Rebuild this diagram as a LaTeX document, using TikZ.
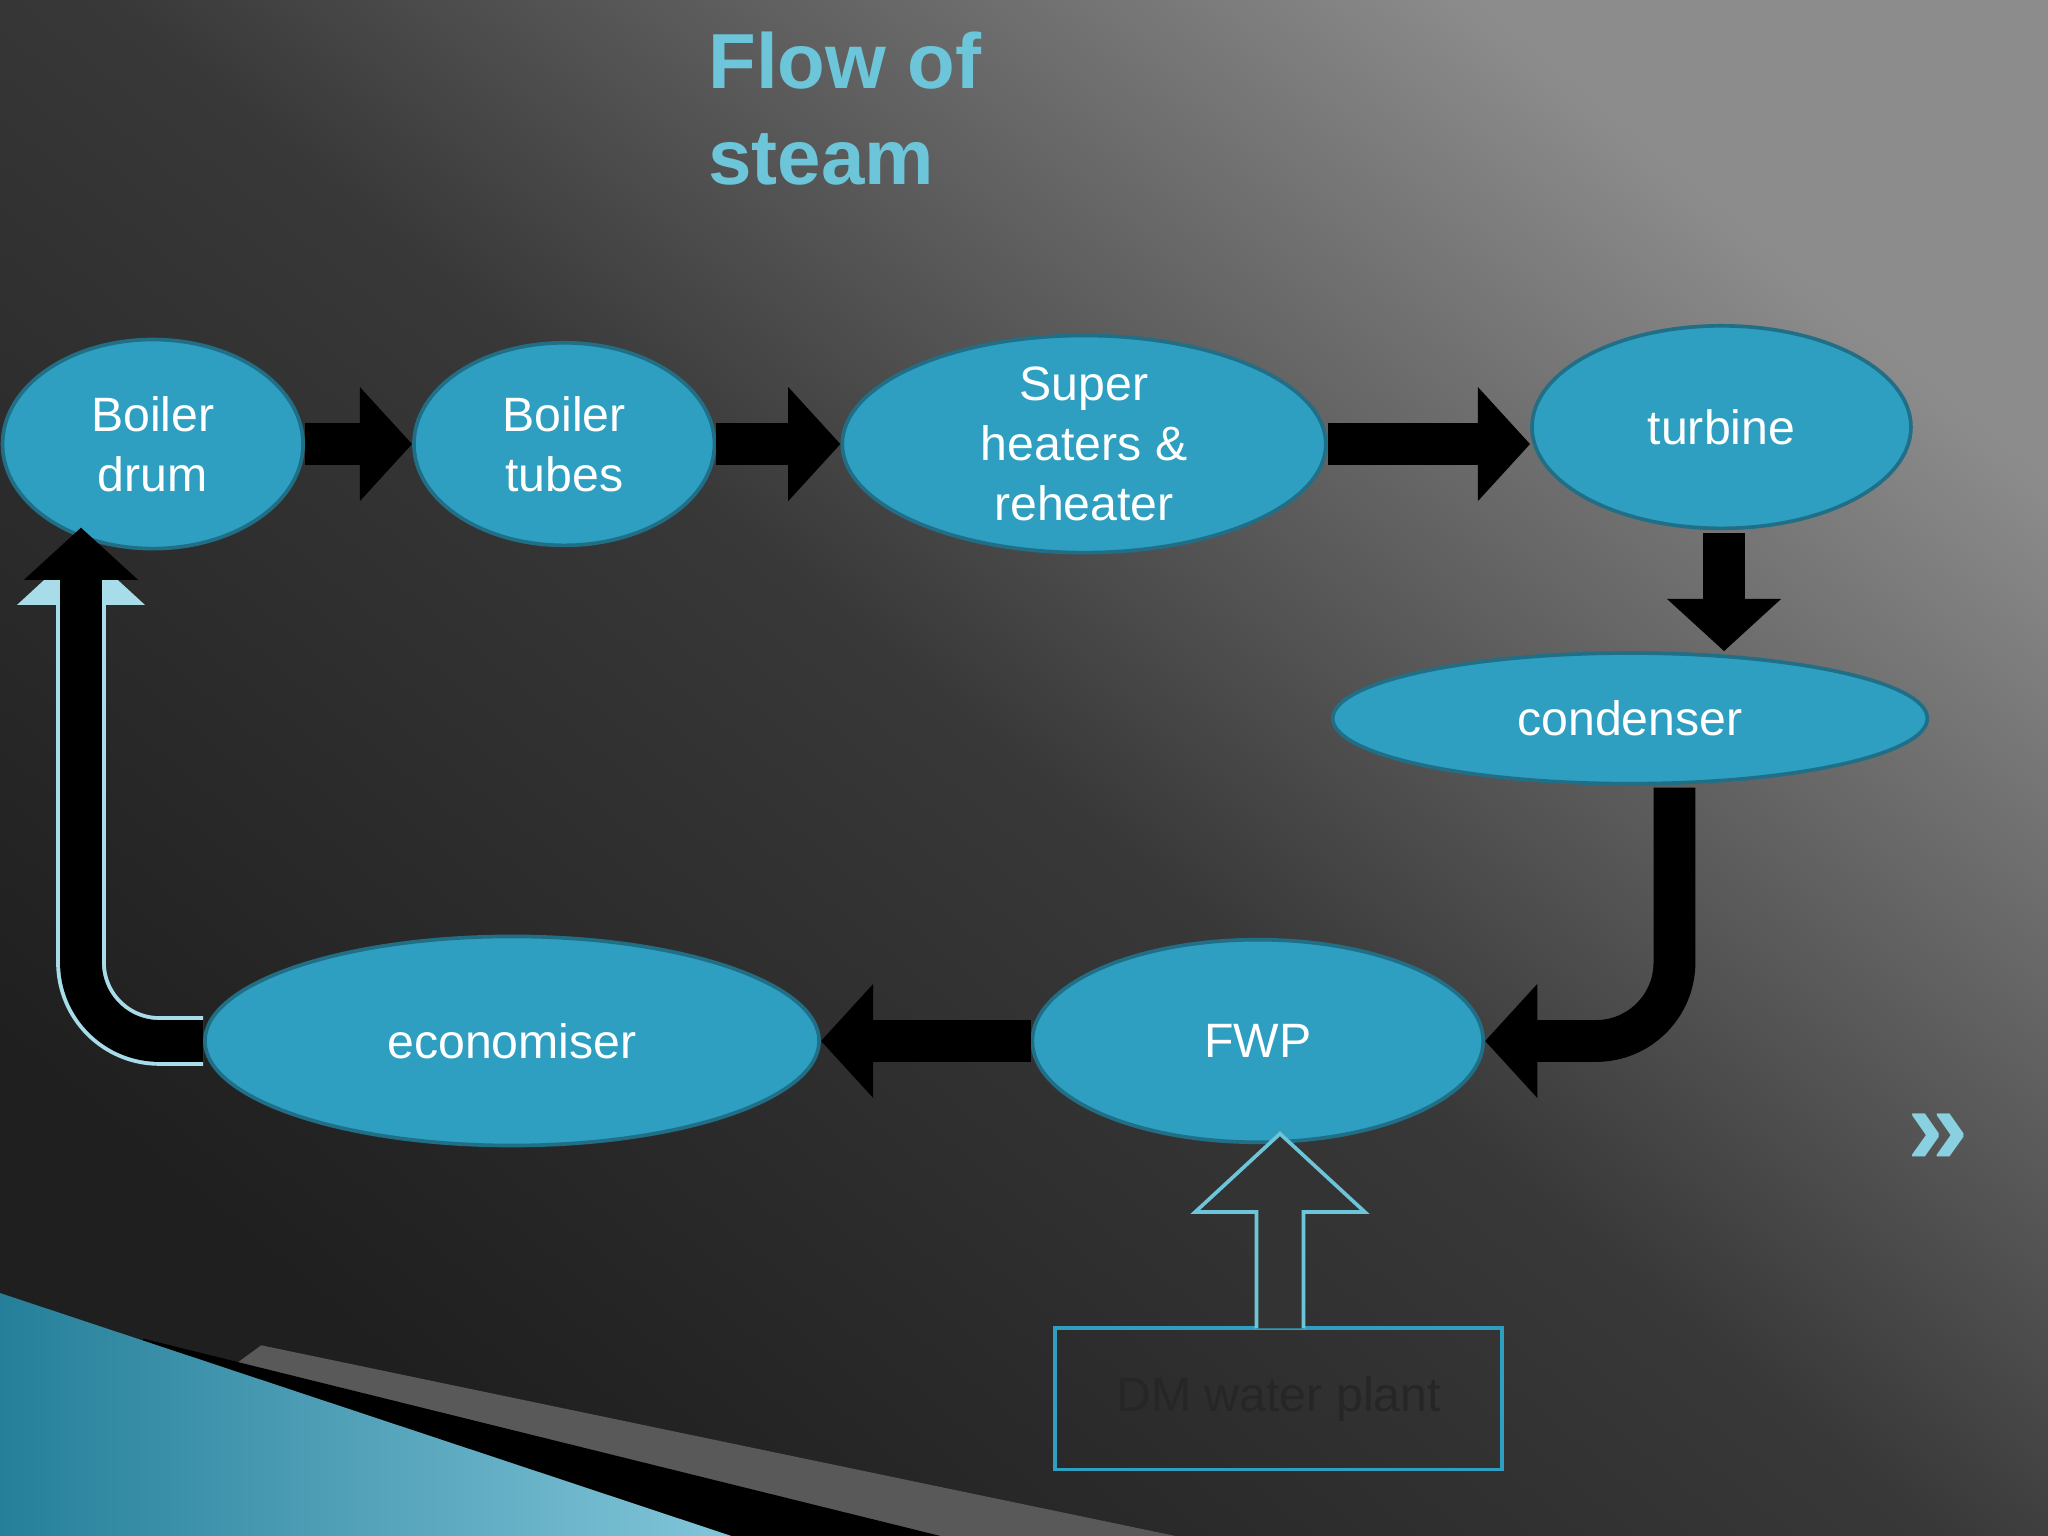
\documentclass[tikz,border=0pt]{standalone}
\usepackage{fontspec}
\setmainfont{Liberation Sans}
\usetikzlibrary{arrows.meta,shapes.geometric,positioning}
\definecolor{blob}{HTML}{2E9FC0}
\definecolor{title}{HTML}{6CC5D8}
\tikzset{
    blob/.style={
        ellipse, draw=blob!70!black, fill=blob, thick,
        text=white, align=center, font=\fontsize{10.5}{13}\selectfont,
        inner sep=0pt,
    },
    flow/.style={
        draw=black, line width=3.2mm,
        -{Triangle[length=4mm,width=8.5mm]},
    },
    bentflow/.style={
        flow, rounded corners=6mm,
    },
}
\begin{document}
\begin{tikzpicture}[x=0.01cm,y=-0.01cm]
    \useasboundingbox (0,0) rectangle (1568,1176);
    % background
    \shade[top color=black!45,bottom color=black!88,middle color=black!78,shading angle=-40]
        (0,0) rectangle (1568,1176);
    \fill[black!65] (0,1176) -- (200,1030) -- (900,1176) -- cycle;
    \fill[black] (0,1176) -- (110,1025) -- (720,1176) -- cycle;
    \shade[left color=blob!80!black,right color=blob!60!white]
        (0,990) -- (560,1176) -- (0,1176) -- cycle;
    % title
    \node[anchor=north west,align=left,text=title,font=\bfseries\fontsize{17}{21}\selectfont]
        (title) at (530,12) {Flow of\\steam};
    % nodes
    \node[blob,minimum width=2.30cm,minimum height=1.60cm] (drum) at (117,340) {Boiler\\drum};
    \node[blob,minimum width=2.30cm,minimum height=1.55cm] (tubes) at (432,340) {Boiler\\tubes};
    \node[blob,minimum width=3.70cm,minimum height=1.55cm] (super) at (830,340) {Super\\heaters \&\\reheater};
    \node[blob,minimum width=2.90cm,minimum height=1.55cm] (turbine) at (1318,327) {turbine};
    \node[blob,minimum width=4.55cm,minimum height=1.00cm] (condenser) at (1248,550) {condenser};
    \node[blob,minimum width=3.45cm,minimum height=1.55cm] (fwp) at (963,797) {FWP};
    \node[blob,minimum width=4.70cm,minimum height=1.60cm] (eco) at (392,797) {economiser};
    \node[draw=blob,thick,minimum width=3.42cm,minimum height=1.08cm,text=black!85,
          font=\fontsize{10.5}{13}\selectfont] (dm) at (979,1071) {DM water plant};
    \coordinate (drop) at (1320,408);
    \coordinate (corner) at (1282,603);
    \coordinate (turn) at (62,797);
    \coordinate (rise) at (62,418);
    % connectors
    \draw[flow] (drum) -- (tubes);
    \draw[flow] (tubes) -- (super);
    \draw[flow] (super.east) -- (turbine.west |- super.east);
    \draw[flow] (drop) -- (condenser.north -| drop);
    \draw[bentflow] (corner) |- (fwp);
    \draw[flow] (fwp) -- (eco);
    \draw[bentflow,draw=title!60,line width=3.8mm,-{Triangle[length=4.5mm,width=9.5mm]}]
        (eco.west) -| (rise);
    \draw[bentflow] (eco.west) -| ([yshift=4]rise);
    \draw[draw=title,thick,fill=black!80]
        (962,1017) -- (962,928) -- (915,928) -- (980,868) -- (1045,928)
        -- (998,928) -- (998,1017);
    \node[text=title!80!white,font=\bfseries\fontsize{24}{24}\selectfont] (next) at (1484,872) {»};
\end{tikzpicture}
\end{document}
